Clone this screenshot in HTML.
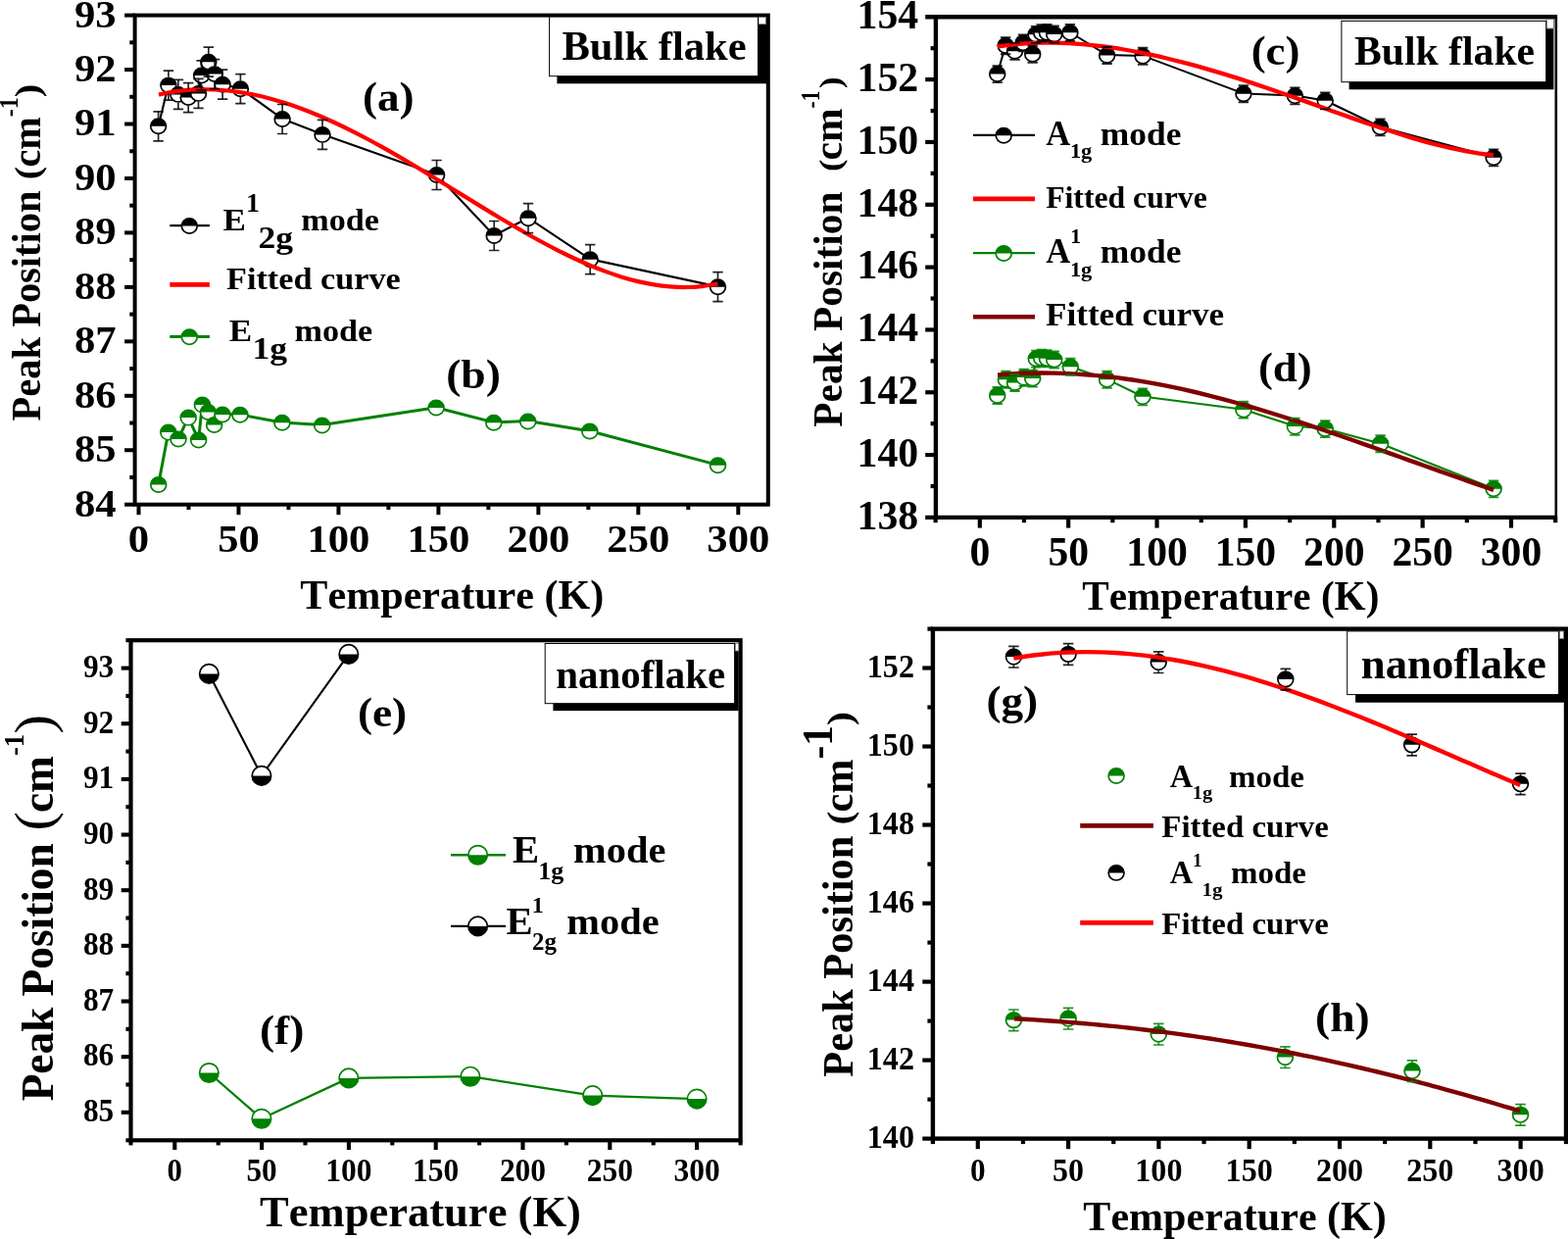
<!DOCTYPE html>
<html lang="en"><head><meta charset="utf-8"><title>Peak position versus temperature</title>
<style>
html,body{margin:0;padding:0;background:#fff;}
body{width:1600px;height:1264px;overflow:hidden;}
svg{display:block;}
svg text{font-family:"Liberation Serif","Times New Roman",serif;font-weight:bold;fill:#000;font-kerning:none;}
</style></head><body>
<svg width="1600" height="1264" viewBox="0 0 1600 1264">
<rect width="1600" height="1264" fill="#fff"/>
<rect x="137.6" y="15.6" width="646.2" height="499.1" fill="none" stroke="#000" stroke-width="4"/>
<line x1="127.1" y1="15.6" x2="137.6" y2="15.6" stroke="#000" stroke-width="4" stroke-linecap="butt"/>
<text transform="translate(118.6 27.5) scale(1.04 1)" font-size="41" text-anchor="end">93</text>
<line x1="132.3" y1="43.33" x2="137.6" y2="43.33" stroke="#000" stroke-width="4" stroke-linecap="butt"/>
<line x1="127.1" y1="71.06" x2="137.6" y2="71.06" stroke="#000" stroke-width="4" stroke-linecap="butt"/>
<text transform="translate(118.6 82.96) scale(1.04 1)" font-size="41" text-anchor="end">92</text>
<line x1="132.3" y1="98.78" x2="137.6" y2="98.78" stroke="#000" stroke-width="4" stroke-linecap="butt"/>
<line x1="127.1" y1="126.51" x2="137.6" y2="126.51" stroke="#000" stroke-width="4" stroke-linecap="butt"/>
<text transform="translate(118.6 138.41) scale(1.04 1)" font-size="41" text-anchor="end">91</text>
<line x1="132.3" y1="154.24" x2="137.6" y2="154.24" stroke="#000" stroke-width="4" stroke-linecap="butt"/>
<line x1="127.1" y1="181.97" x2="137.6" y2="181.97" stroke="#000" stroke-width="4" stroke-linecap="butt"/>
<text transform="translate(118.6 193.87) scale(1.04 1)" font-size="41" text-anchor="end">90</text>
<line x1="132.3" y1="209.69" x2="137.6" y2="209.69" stroke="#000" stroke-width="4" stroke-linecap="butt"/>
<line x1="127.1" y1="237.42" x2="137.6" y2="237.42" stroke="#000" stroke-width="4" stroke-linecap="butt"/>
<text transform="translate(118.6 249.32) scale(1.04 1)" font-size="41" text-anchor="end">89</text>
<line x1="132.3" y1="265.15" x2="137.6" y2="265.15" stroke="#000" stroke-width="4" stroke-linecap="butt"/>
<line x1="127.1" y1="292.88" x2="137.6" y2="292.88" stroke="#000" stroke-width="4" stroke-linecap="butt"/>
<text transform="translate(118.6 304.78) scale(1.04 1)" font-size="41" text-anchor="end">88</text>
<line x1="132.3" y1="320.61" x2="137.6" y2="320.61" stroke="#000" stroke-width="4" stroke-linecap="butt"/>
<line x1="127.1" y1="348.33" x2="137.6" y2="348.33" stroke="#000" stroke-width="4" stroke-linecap="butt"/>
<text transform="translate(118.6 360.23) scale(1.04 1)" font-size="41" text-anchor="end">87</text>
<line x1="132.3" y1="376.06" x2="137.6" y2="376.06" stroke="#000" stroke-width="4" stroke-linecap="butt"/>
<line x1="127.1" y1="403.79" x2="137.6" y2="403.79" stroke="#000" stroke-width="4" stroke-linecap="butt"/>
<text transform="translate(118.6 415.69) scale(1.04 1)" font-size="41" text-anchor="end">86</text>
<line x1="132.3" y1="431.52" x2="137.6" y2="431.52" stroke="#000" stroke-width="4" stroke-linecap="butt"/>
<line x1="127.1" y1="459.24" x2="137.6" y2="459.24" stroke="#000" stroke-width="4" stroke-linecap="butt"/>
<text transform="translate(118.6 471.14) scale(1.04 1)" font-size="41" text-anchor="end">85</text>
<line x1="132.3" y1="486.97" x2="137.6" y2="486.97" stroke="#000" stroke-width="4" stroke-linecap="butt"/>
<line x1="127.1" y1="514.7" x2="137.6" y2="514.7" stroke="#000" stroke-width="4" stroke-linecap="butt"/>
<text transform="translate(118.6 526.6) scale(1.04 1)" font-size="41" text-anchor="end">84</text>
<line x1="141.5" y1="514.7" x2="141.5" y2="525.2" stroke="#000" stroke-width="4" stroke-linecap="butt"/>
<text transform="translate(141.5 563.4) scale(1.04 1)" font-size="41" text-anchor="middle">0</text>
<line x1="243.47" y1="514.7" x2="243.47" y2="525.2" stroke="#000" stroke-width="4" stroke-linecap="butt"/>
<text transform="translate(243.47 563.4) scale(1.04 1)" font-size="41" text-anchor="middle">50</text>
<line x1="345.43" y1="514.7" x2="345.43" y2="525.2" stroke="#000" stroke-width="4" stroke-linecap="butt"/>
<text transform="translate(345.43 563.4) scale(1.04 1)" font-size="41" text-anchor="middle">100</text>
<line x1="447.4" y1="514.7" x2="447.4" y2="525.2" stroke="#000" stroke-width="4" stroke-linecap="butt"/>
<text transform="translate(447.4 563.4) scale(1.04 1)" font-size="41" text-anchor="middle">150</text>
<line x1="549.37" y1="514.7" x2="549.37" y2="525.2" stroke="#000" stroke-width="4" stroke-linecap="butt"/>
<text transform="translate(549.37 563.4) scale(1.04 1)" font-size="41" text-anchor="middle">200</text>
<line x1="651.33" y1="514.7" x2="651.33" y2="525.2" stroke="#000" stroke-width="4" stroke-linecap="butt"/>
<text transform="translate(651.33 563.4) scale(1.04 1)" font-size="41" text-anchor="middle">250</text>
<line x1="753.3" y1="514.7" x2="753.3" y2="525.2" stroke="#000" stroke-width="4" stroke-linecap="butt"/>
<text transform="translate(753.3 563.4) scale(1.04 1)" font-size="41" text-anchor="middle">300</text>
<line x1="192.48" y1="514.7" x2="192.48" y2="520" stroke="#000" stroke-width="4" stroke-linecap="butt"/>
<line x1="294.45" y1="514.7" x2="294.45" y2="520" stroke="#000" stroke-width="4" stroke-linecap="butt"/>
<line x1="396.42" y1="514.7" x2="396.42" y2="520" stroke="#000" stroke-width="4" stroke-linecap="butt"/>
<line x1="498.38" y1="514.7" x2="498.38" y2="520" stroke="#000" stroke-width="4" stroke-linecap="butt"/>
<line x1="600.35" y1="514.7" x2="600.35" y2="520" stroke="#000" stroke-width="4" stroke-linecap="butt"/>
<line x1="702.32" y1="514.7" x2="702.32" y2="520" stroke="#000" stroke-width="4" stroke-linecap="butt"/>
<text transform="translate(306.34 620.8) scale(0.9893 1)" font-size="42.6">Temperature (K)</text>
<text transform="translate(41.1 429.39) rotate(-90) scale(0.9414 1)" font-size="43">Peak Position</text>
<text transform="translate(40.45 183.36) rotate(-90) scale(1.0898 1)" font-size="36.8">(</text>
<text transform="translate(41.1 170.57) rotate(-90) scale(0.9355 1)" font-size="43">cm</text>
<text transform="translate(18 119.19) rotate(-90) scale(0.8887 1)" font-size="27.2">-1</text>
<text transform="translate(40.45 99.32) rotate(-90) scale(1.1109 1)" font-size="36.8">)</text>
<rect x="568.4" y="24.7" width="214" height="60.6" fill="#000" stroke="none" stroke-width="1"/>
<rect x="774" y="17.6" width="7.5" height="7.1" fill="#fff" stroke="#666" stroke-width="0.8"/>
<rect x="560.6" y="17.1" width="212.9" height="60.6" fill="#fff" stroke="#000" stroke-width="1"/>
<text transform="translate(573.39 60.9) scale(1.0252 1)" font-size="41.6">Bulk flake</text>
<polyline points="161.7,494.1 171.8,440.8 182,447.7 192.2,425.8 202.6,448.6 206.4,412.8 212.4,420.1 218.6,433.1 227,422.6 245,423 287.9,431 328.7,433.6 445.1,415.7 503.8,430.9 538.7,429.6 601.8,439.7 732.5,474.4" fill="none" stroke="#008000" stroke-width="3" stroke-linejoin="round"/>
<ellipse cx="161.7" cy="494.4" rx="7.95" ry="7.65" fill="#fff" stroke="#008000" stroke-width="1.7"/>
<path d="M153.75 494.4 A7.95 7.65 0 0 1 169.65 494.4 Z" fill="#008000"/>
<ellipse cx="171.8" cy="441.1" rx="7.95" ry="7.65" fill="#fff" stroke="#008000" stroke-width="1.7"/>
<path d="M163.85 441.1 A7.95 7.65 0 0 1 179.75 441.1 Z" fill="#008000"/>
<ellipse cx="182" cy="448" rx="7.95" ry="7.65" fill="#fff" stroke="#008000" stroke-width="1.7"/>
<path d="M174.05 448 A7.95 7.65 0 0 1 189.95 448 Z" fill="#008000"/>
<ellipse cx="192.2" cy="426.1" rx="7.95" ry="7.65" fill="#fff" stroke="#008000" stroke-width="1.7"/>
<path d="M184.25 426.1 A7.95 7.65 0 0 1 200.15 426.1 Z" fill="#008000"/>
<ellipse cx="202.6" cy="448.9" rx="7.95" ry="7.65" fill="#fff" stroke="#008000" stroke-width="1.7"/>
<path d="M194.65 448.9 A7.95 7.65 0 0 1 210.55 448.9 Z" fill="#008000"/>
<ellipse cx="206.4" cy="413.1" rx="7.95" ry="7.65" fill="#fff" stroke="#008000" stroke-width="1.7"/>
<path d="M198.45 413.1 A7.95 7.65 0 0 1 214.35 413.1 Z" fill="#008000"/>
<ellipse cx="212.4" cy="420.4" rx="7.95" ry="7.65" fill="#fff" stroke="#008000" stroke-width="1.7"/>
<path d="M204.45 420.4 A7.95 7.65 0 0 1 220.35 420.4 Z" fill="#008000"/>
<ellipse cx="218.6" cy="433.4" rx="7.95" ry="7.65" fill="#fff" stroke="#008000" stroke-width="1.7"/>
<path d="M210.65 433.4 A7.95 7.65 0 0 1 226.55 433.4 Z" fill="#008000"/>
<ellipse cx="227" cy="422.9" rx="7.95" ry="7.65" fill="#fff" stroke="#008000" stroke-width="1.7"/>
<path d="M219.05 422.9 A7.95 7.65 0 0 1 234.95 422.9 Z" fill="#008000"/>
<ellipse cx="245" cy="423.3" rx="7.95" ry="7.65" fill="#fff" stroke="#008000" stroke-width="1.7"/>
<path d="M237.05 423.3 A7.95 7.65 0 0 1 252.95 423.3 Z" fill="#008000"/>
<ellipse cx="287.9" cy="431.3" rx="7.95" ry="7.65" fill="#fff" stroke="#008000" stroke-width="1.7"/>
<path d="M279.95 431.3 A7.95 7.65 0 0 1 295.85 431.3 Z" fill="#008000"/>
<ellipse cx="328.7" cy="433.9" rx="7.95" ry="7.65" fill="#fff" stroke="#008000" stroke-width="1.7"/>
<path d="M320.75 433.9 A7.95 7.65 0 0 1 336.65 433.9 Z" fill="#008000"/>
<ellipse cx="445.1" cy="416" rx="7.95" ry="7.65" fill="#fff" stroke="#008000" stroke-width="1.7"/>
<path d="M437.15 416 A7.95 7.65 0 0 1 453.05 416 Z" fill="#008000"/>
<ellipse cx="503.8" cy="431.2" rx="7.95" ry="7.65" fill="#fff" stroke="#008000" stroke-width="1.7"/>
<path d="M495.85 431.2 A7.95 7.65 0 0 1 511.75 431.2 Z" fill="#008000"/>
<ellipse cx="538.7" cy="429.9" rx="7.95" ry="7.65" fill="#fff" stroke="#008000" stroke-width="1.7"/>
<path d="M530.75 429.9 A7.95 7.65 0 0 1 546.65 429.9 Z" fill="#008000"/>
<ellipse cx="601.8" cy="440" rx="7.95" ry="7.65" fill="#fff" stroke="#008000" stroke-width="1.7"/>
<path d="M593.85 440 A7.95 7.65 0 0 1 609.75 440 Z" fill="#008000"/>
<ellipse cx="732.5" cy="474.7" rx="7.95" ry="7.65" fill="#fff" stroke="#008000" stroke-width="1.7"/>
<path d="M724.55 474.7 A7.95 7.65 0 0 1 740.45 474.7 Z" fill="#008000"/>
<polyline points="161.6,128.5 171.9,86.8 181.9,96.1 192.2,99.3 202.5,95.1 205.6,76.6 212.8,62.9 219,75.3 227.1,85.9 245.4,90.4 288.1,121.2 329,137.1 445.6,178.2 504.2,240.2 539,222.4 602.2,264.4 732.5,292.4" fill="none" stroke="#000" stroke-width="2.1" stroke-linejoin="round"/>
<ellipse cx="161.6" cy="128.8" rx="7.9" ry="7.6" fill="#fff" stroke="#000" stroke-width="1.7"/>
<path d="M153.7 128.8 A7.9 7.6 0 0 1 169.5 128.8 Z" fill="#000"/>
<ellipse cx="171.9" cy="87.1" rx="7.9" ry="7.6" fill="#fff" stroke="#000" stroke-width="1.7"/>
<path d="M164 87.1 A7.9 7.6 0 0 1 179.8 87.1 Z" fill="#000"/>
<ellipse cx="181.9" cy="96.4" rx="7.9" ry="7.6" fill="#fff" stroke="#000" stroke-width="1.7"/>
<path d="M174 96.4 A7.9 7.6 0 0 1 189.8 96.4 Z" fill="#000"/>
<ellipse cx="192.2" cy="99.6" rx="7.9" ry="7.6" fill="#fff" stroke="#000" stroke-width="1.7"/>
<path d="M184.3 99.6 A7.9 7.6 0 0 1 200.1 99.6 Z" fill="#000"/>
<ellipse cx="202.5" cy="95.4" rx="7.9" ry="7.6" fill="#fff" stroke="#000" stroke-width="1.7"/>
<path d="M194.6 95.4 A7.9 7.6 0 0 1 210.4 95.4 Z" fill="#000"/>
<ellipse cx="205.6" cy="76.9" rx="7.9" ry="7.6" fill="#fff" stroke="#000" stroke-width="1.7"/>
<path d="M197.7 76.9 A7.9 7.6 0 0 1 213.5 76.9 Z" fill="#000"/>
<ellipse cx="212.8" cy="63.2" rx="7.9" ry="7.6" fill="#fff" stroke="#000" stroke-width="1.7"/>
<path d="M204.9 63.2 A7.9 7.6 0 0 1 220.7 63.2 Z" fill="#000"/>
<ellipse cx="219" cy="75.6" rx="7.9" ry="7.6" fill="#fff" stroke="#000" stroke-width="1.7"/>
<path d="M211.1 75.6 A7.9 7.6 0 0 1 226.9 75.6 Z" fill="#000"/>
<ellipse cx="227.1" cy="86.2" rx="7.9" ry="7.6" fill="#fff" stroke="#000" stroke-width="1.7"/>
<path d="M219.2 86.2 A7.9 7.6 0 0 1 235 86.2 Z" fill="#000"/>
<ellipse cx="245.4" cy="90.7" rx="7.9" ry="7.6" fill="#fff" stroke="#000" stroke-width="1.7"/>
<path d="M237.5 90.7 A7.9 7.6 0 0 1 253.3 90.7 Z" fill="#000"/>
<ellipse cx="288.1" cy="121.5" rx="7.9" ry="7.6" fill="#fff" stroke="#000" stroke-width="1.7"/>
<path d="M280.2 121.5 A7.9 7.6 0 0 1 296 121.5 Z" fill="#000"/>
<ellipse cx="329" cy="137.4" rx="7.9" ry="7.6" fill="#fff" stroke="#000" stroke-width="1.7"/>
<path d="M321.1 137.4 A7.9 7.6 0 0 1 336.9 137.4 Z" fill="#000"/>
<ellipse cx="445.6" cy="178.5" rx="7.9" ry="7.6" fill="#fff" stroke="#000" stroke-width="1.7"/>
<path d="M437.7 178.5 A7.9 7.6 0 0 1 453.5 178.5 Z" fill="#000"/>
<ellipse cx="504.2" cy="240.5" rx="7.9" ry="7.6" fill="#fff" stroke="#000" stroke-width="1.7"/>
<path d="M496.3 240.5 A7.9 7.6 0 0 1 512.1 240.5 Z" fill="#000"/>
<ellipse cx="539" cy="222.7" rx="7.9" ry="7.6" fill="#fff" stroke="#000" stroke-width="1.7"/>
<path d="M531.1 222.7 A7.9 7.6 0 0 1 546.9 222.7 Z" fill="#000"/>
<ellipse cx="602.2" cy="264.7" rx="7.9" ry="7.6" fill="#fff" stroke="#000" stroke-width="1.7"/>
<path d="M594.3 264.7 A7.9 7.6 0 0 1 610.1 264.7 Z" fill="#000"/>
<ellipse cx="732.5" cy="292.7" rx="7.9" ry="7.6" fill="#fff" stroke="#000" stroke-width="1.7"/>
<path d="M724.6 292.7 A7.9 7.6 0 0 1 740.4 292.7 Z" fill="#000"/>
<path d="M161.9 96.52 C164.62 96 172.77 94.24 178.2 93.44 C183.64 92.64 189.07 92.07 194.51 91.71 C199.94 91.34 205.37 91.2 210.81 91.25 C216.24 91.29 221.68 91.55 227.11 91.99 C232.55 92.42 237.98 93.06 243.41 93.86 C248.85 94.66 254.28 95.66 259.72 96.8 C265.15 97.95 270.59 99.27 276.02 100.74 C281.45 102.21 286.89 103.84 292.32 105.6 C297.76 107.36 303.19 109.28 308.63 111.32 C314.06 113.35 319.49 115.53 324.93 117.81 C330.36 120.1 335.8 122.51 341.23 125.02 C346.67 127.52 352.1 130.15 357.53 132.86 C362.97 135.56 368.4 138.37 373.84 141.25 C379.27 144.13 384.71 147.1 390.14 150.12 C395.57 153.15 401.01 156.25 406.44 159.4 C411.88 162.55 417.31 165.76 422.75 169 C428.18 172.23 433.61 175.53 439.05 178.83 C444.48 182.13 449.92 185.48 455.35 188.82 C460.79 192.16 466.22 195.53 471.65 198.88 C477.09 202.22 482.52 205.59 487.96 208.91 C493.39 212.24 498.83 215.56 504.26 218.84 C509.69 222.11 515.13 225.37 520.56 228.56 C526 231.75 531.43 234.91 536.87 237.99 C542.3 241.06 547.73 244.09 553.17 247.02 C558.6 249.95 564.04 252.81 569.47 255.55 C574.91 258.3 580.34 260.96 585.77 263.49 C591.21 266.02 596.64 268.45 602.08 270.72 C607.51 273 612.95 275.16 618.38 277.14 C623.81 279.13 629.25 280.98 634.68 282.64 C640.12 284.3 645.55 285.8 650.99 287.09 C656.42 288.38 661.85 289.5 667.29 290.39 C672.72 291.27 678.16 291.97 683.59 292.4 C689.03 292.84 694.46 293.07 699.89 293.02 C705.33 292.96 710.76 292.68 716.2 292.09 C721.63 291.51 729.78 289.93 732.5 289.5" fill="none" stroke="#ff0000" stroke-width="4.2" stroke-linecap="butt"/>
<g stroke="#000" stroke-opacity="0.85" fill="none"><path d="M161.6 113.8V120.5M161.6 137.1V143.8" stroke-width="1.7"/><path d="M156.4 113.8H166.8M156.4 143.8H166.8" stroke-width="1.7"/></g>
<g stroke="#000" stroke-opacity="0.85" fill="none"><path d="M171.9 72.1V78.8M171.9 95.4V102.1" stroke-width="1.7"/><path d="M166.7 72.1H177.1M166.7 102.1H177.1" stroke-width="1.7"/></g>
<g stroke="#000" stroke-opacity="0.85" fill="none"><path d="M181.9 81.4V88.1M181.9 104.7V111.4" stroke-width="1.7"/><path d="M176.7 81.4H187.1M176.7 111.4H187.1" stroke-width="1.7"/></g>
<g stroke="#000" stroke-opacity="0.85" fill="none"><path d="M192.2 84.6V91.3M192.2 107.9V114.6" stroke-width="1.7"/><path d="M187 84.6H197.4M187 114.6H197.4" stroke-width="1.7"/></g>
<g stroke="#000" stroke-opacity="0.85" fill="none"><path d="M202.5 80.4V87.1M202.5 103.7V110.4" stroke-width="1.7"/><path d="M197.3 80.4H207.7M197.3 110.4H207.7" stroke-width="1.7"/></g>
<g stroke="#000" stroke-opacity="0.85" fill="none"><path d="M205.6 61.9V68.6M205.6 85.2V91.9" stroke-width="1.7"/><path d="M200.4 61.9H210.8M200.4 91.9H210.8" stroke-width="1.7"/></g>
<g stroke="#000" stroke-opacity="0.85" fill="none"><path d="M212.8 48.2V54.9M212.8 71.5V78.2" stroke-width="1.7"/><path d="M207.6 48.2H218M207.6 78.2H218" stroke-width="1.7"/></g>
<g stroke="#000" stroke-opacity="0.85" fill="none"><path d="M219 60.6V67.3M219 83.9V90.6" stroke-width="1.7"/><path d="M213.8 60.6H224.2M213.8 90.6H224.2" stroke-width="1.7"/></g>
<g stroke="#000" stroke-opacity="0.85" fill="none"><path d="M227.1 71.2V77.9M227.1 94.5V101.2" stroke-width="1.7"/><path d="M221.9 71.2H232.3M221.9 101.2H232.3" stroke-width="1.7"/></g>
<g stroke="#000" stroke-opacity="0.85" fill="none"><path d="M245.4 75.7V82.4M245.4 99V105.7" stroke-width="1.7"/><path d="M240.2 75.7H250.6M240.2 105.7H250.6" stroke-width="1.7"/></g>
<g stroke="#000" stroke-opacity="0.85" fill="none"><path d="M288.1 106.5V113.2M288.1 129.8V136.5" stroke-width="1.7"/><path d="M282.9 106.5H293.3M282.9 136.5H293.3" stroke-width="1.7"/></g>
<g stroke="#000" stroke-opacity="0.85" fill="none"><path d="M329 122.4V129.1M329 145.7V152.4" stroke-width="1.7"/><path d="M323.8 122.4H334.2M323.8 152.4H334.2" stroke-width="1.7"/></g>
<g stroke="#000" stroke-opacity="0.85" fill="none"><path d="M445.6 163.5V170.2M445.6 186.8V193.5" stroke-width="1.7"/><path d="M440.4 163.5H450.8M440.4 193.5H450.8" stroke-width="1.7"/></g>
<g stroke="#000" stroke-opacity="0.85" fill="none"><path d="M504.2 225.5V232.2M504.2 248.8V255.5" stroke-width="1.7"/><path d="M499 225.5H509.4M499 255.5H509.4" stroke-width="1.7"/></g>
<g stroke="#000" stroke-opacity="0.85" fill="none"><path d="M539 207.7V214.4M539 231V237.7" stroke-width="1.7"/><path d="M533.8 207.7H544.2M533.8 237.7H544.2" stroke-width="1.7"/></g>
<g stroke="#000" stroke-opacity="0.85" fill="none"><path d="M602.2 249.7V256.4M602.2 273V279.7" stroke-width="1.7"/><path d="M597 249.7H607.4M597 279.7H607.4" stroke-width="1.7"/></g>
<g stroke="#000" stroke-opacity="0.85" fill="none"><path d="M732.5 277.7V284.4M732.5 301V307.7" stroke-width="1.7"/><path d="M727.3 277.7H737.7M727.3 307.7H737.7" stroke-width="1.7"/></g>
<line x1="173.3" y1="230.1" x2="213.9" y2="230.1" stroke="#000" stroke-width="2.1" stroke-linecap="butt"/>
<ellipse cx="193.3" cy="230.5" rx="7.9" ry="7.6" fill="#fff" stroke="#000" stroke-width="1.7"/>
<path d="M185.4 230.5 A7.9 7.6 0 0 1 201.2 230.5 Z" fill="#000"/>
<text transform="translate(227.6 235.3) scale(1.08 1)" font-size="32.5">E</text>
<text transform="translate(250.9 215.7) scale(1.05 1)" font-size="26.5">1</text>
<text transform="translate(263.6 252.6) scale(1.1 1)" font-size="32.3">2g</text>
<text transform="translate(307.2 235.2) scale(1.085 1)" font-size="31.5">mode</text>
<line x1="173.3" y1="290.4" x2="213.9" y2="290.4" stroke="#ff0000" stroke-width="4.6" stroke-linecap="butt"/>
<text transform="translate(231 294.8) scale(1.07 1)" font-size="32">Fitted curve</text>
<line x1="173.3" y1="343.6" x2="213.9" y2="343.6" stroke="#008000" stroke-width="3" stroke-linecap="butt"/>
<ellipse cx="193.3" cy="343.8" rx="7.95" ry="7.65" fill="#fff" stroke="#008000" stroke-width="1.7"/>
<path d="M185.35 343.8 A7.95 7.65 0 0 1 201.25 343.8 Z" fill="#008000"/>
<text transform="translate(233.8 347.8) scale(1.08 1)" font-size="32.5">E</text>
<text transform="translate(257.4 366.2) scale(1.1 1)" font-size="32.3">1g</text>
<text transform="translate(300.5 347.8) scale(1.085 1)" font-size="31.5">mode</text>
<text transform="translate(369.91 112.9) scale(1.0628 1)" font-size="42.5">(a)</text>
<text transform="translate(455.2 395.6) scale(1.0725 1)" font-size="42.5">(b)</text>
<line x1="954.9" y1="15.1" x2="954.9" y2="530.1" stroke="#000" stroke-width="4.4" stroke-linecap="butt"/>
<line x1="944.2" y1="17.3" x2="1589.1" y2="17.3" stroke="#000" stroke-width="4.4" stroke-linecap="butt"/>
<line x1="944.2" y1="527.9" x2="1589.1" y2="527.9" stroke="#000" stroke-width="4.4" stroke-linecap="butt"/>
<line x1="1587.8" y1="17.3" x2="1587.8" y2="527.9" stroke="#000" stroke-width="2.6" stroke-linecap="butt"/>
<text transform="translate(937.2 29.1) scale(0.972 1)" font-size="43" text-anchor="end">154</text>
<line x1="949.6" y1="49.21" x2="954.9" y2="49.21" stroke="#000" stroke-width="4.2" stroke-linecap="butt"/>
<line x1="944.2" y1="81.12" x2="954.9" y2="81.12" stroke="#000" stroke-width="4.2" stroke-linecap="butt"/>
<text transform="translate(937.2 92.92) scale(0.972 1)" font-size="43" text-anchor="end">152</text>
<line x1="949.6" y1="113.04" x2="954.9" y2="113.04" stroke="#000" stroke-width="4.2" stroke-linecap="butt"/>
<line x1="944.2" y1="144.95" x2="954.9" y2="144.95" stroke="#000" stroke-width="4.2" stroke-linecap="butt"/>
<text transform="translate(937.2 156.75) scale(0.972 1)" font-size="43" text-anchor="end">150</text>
<line x1="949.6" y1="176.86" x2="954.9" y2="176.86" stroke="#000" stroke-width="4.2" stroke-linecap="butt"/>
<line x1="944.2" y1="208.78" x2="954.9" y2="208.78" stroke="#000" stroke-width="4.2" stroke-linecap="butt"/>
<text transform="translate(937.2 220.58) scale(0.972 1)" font-size="43" text-anchor="end">148</text>
<line x1="949.6" y1="240.69" x2="954.9" y2="240.69" stroke="#000" stroke-width="4.2" stroke-linecap="butt"/>
<line x1="944.2" y1="272.6" x2="954.9" y2="272.6" stroke="#000" stroke-width="4.2" stroke-linecap="butt"/>
<text transform="translate(937.2 284.4) scale(0.972 1)" font-size="43" text-anchor="end">146</text>
<line x1="949.6" y1="304.51" x2="954.9" y2="304.51" stroke="#000" stroke-width="4.2" stroke-linecap="butt"/>
<line x1="944.2" y1="336.43" x2="954.9" y2="336.43" stroke="#000" stroke-width="4.2" stroke-linecap="butt"/>
<text transform="translate(937.2 348.23) scale(0.972 1)" font-size="43" text-anchor="end">144</text>
<line x1="949.6" y1="368.34" x2="954.9" y2="368.34" stroke="#000" stroke-width="4.2" stroke-linecap="butt"/>
<line x1="944.2" y1="400.25" x2="954.9" y2="400.25" stroke="#000" stroke-width="4.2" stroke-linecap="butt"/>
<text transform="translate(937.2 412.05) scale(0.972 1)" font-size="43" text-anchor="end">142</text>
<line x1="949.6" y1="432.16" x2="954.9" y2="432.16" stroke="#000" stroke-width="4.2" stroke-linecap="butt"/>
<line x1="944.2" y1="464.07" x2="954.9" y2="464.07" stroke="#000" stroke-width="4.2" stroke-linecap="butt"/>
<text transform="translate(937.2 475.88) scale(0.972 1)" font-size="43" text-anchor="end">140</text>
<line x1="949.6" y1="495.99" x2="954.9" y2="495.99" stroke="#000" stroke-width="4.2" stroke-linecap="butt"/>
<text transform="translate(937.2 539.7) scale(0.972 1)" font-size="43" text-anchor="end">138</text>
<line x1="999.8" y1="527.9" x2="999.8" y2="538.6" stroke="#000" stroke-width="4.2" stroke-linecap="butt"/>
<text transform="translate(999.8 577) scale(0.99 1)" font-size="42" text-anchor="middle">0</text>
<line x1="1090.17" y1="527.9" x2="1090.17" y2="538.6" stroke="#000" stroke-width="4.2" stroke-linecap="butt"/>
<text transform="translate(1090.17 577) scale(0.99 1)" font-size="42" text-anchor="middle">50</text>
<line x1="1180.53" y1="527.9" x2="1180.53" y2="538.6" stroke="#000" stroke-width="4.2" stroke-linecap="butt"/>
<text transform="translate(1180.53 577) scale(0.99 1)" font-size="42" text-anchor="middle">100</text>
<line x1="1270.9" y1="527.9" x2="1270.9" y2="538.6" stroke="#000" stroke-width="4.2" stroke-linecap="butt"/>
<text transform="translate(1270.9 577) scale(0.99 1)" font-size="42" text-anchor="middle">150</text>
<line x1="1361.27" y1="527.9" x2="1361.27" y2="538.6" stroke="#000" stroke-width="4.2" stroke-linecap="butt"/>
<text transform="translate(1361.27 577) scale(0.99 1)" font-size="42" text-anchor="middle">200</text>
<line x1="1451.63" y1="527.9" x2="1451.63" y2="538.6" stroke="#000" stroke-width="4.2" stroke-linecap="butt"/>
<text transform="translate(1451.63 577) scale(0.99 1)" font-size="42" text-anchor="middle">250</text>
<line x1="1542" y1="527.9" x2="1542" y2="538.6" stroke="#000" stroke-width="4.2" stroke-linecap="butt"/>
<text transform="translate(1542 577) scale(0.99 1)" font-size="42" text-anchor="middle">300</text>
<line x1="954.62" y1="527.9" x2="954.62" y2="533.2" stroke="#000" stroke-width="4.2" stroke-linecap="butt"/>
<line x1="1044.98" y1="527.9" x2="1044.98" y2="533.2" stroke="#000" stroke-width="4.2" stroke-linecap="butt"/>
<line x1="1135.35" y1="527.9" x2="1135.35" y2="533.2" stroke="#000" stroke-width="4.2" stroke-linecap="butt"/>
<line x1="1225.72" y1="527.9" x2="1225.72" y2="533.2" stroke="#000" stroke-width="4.2" stroke-linecap="butt"/>
<line x1="1316.08" y1="527.9" x2="1316.08" y2="533.2" stroke="#000" stroke-width="4.2" stroke-linecap="butt"/>
<line x1="1406.45" y1="527.9" x2="1406.45" y2="533.2" stroke="#000" stroke-width="4.2" stroke-linecap="butt"/>
<line x1="1496.82" y1="527.9" x2="1496.82" y2="533.2" stroke="#000" stroke-width="4.2" stroke-linecap="butt"/>
<line x1="1587.18" y1="527.9" x2="1587.18" y2="533.2" stroke="#000" stroke-width="4.2" stroke-linecap="butt"/>
<text transform="translate(1104.26 621.8) scale(0.9717 1)" font-size="42.4">Temperature (K)</text>
<text transform="translate(858.8 435.71) rotate(-90) scale(0.9627 1)" font-size="43">Peak Position</text>
<text transform="translate(858.2 175.04) rotate(-90) scale(1.1681 1)" font-size="32">(</text>
<text transform="translate(858.8 163.42) rotate(-90) scale(0.9658 1)" font-size="43">cm</text>
<text transform="translate(836 110.38) rotate(-90) scale(0.7968 1)" font-size="26.8">-1</text>
<text transform="translate(858.2 90.35) rotate(-90) scale(1.1194 1)" font-size="32">)</text>
<rect x="1376.6" y="29.2" width="208.8" height="62.1" fill="#000" stroke="none" stroke-width="1"/>
<rect x="1578.2" y="19.6" width="7.4" height="9.4" fill="#fff" stroke="#666" stroke-width="0.8"/>
<rect x="1368.9" y="21.4" width="208.8" height="62.3" fill="#fff" stroke="#000" stroke-width="1"/>
<text transform="translate(1381.91 66.3) scale(0.9791 1)" font-size="42.6">Bulk flake</text>
<polyline points="1017.7,403.1 1026.4,386.9 1035.5,390.1 1044.8,384.8 1053.7,385.7 1057.3,365.7 1062.7,364.9 1068.4,365.4 1075.7,366.6 1092.3,373.9 1129.6,386.9 1165.9,404.5 1268.9,417.7 1321.4,434.8 1352.2,437.2 1408.6,452.4 1524.1,498.5" fill="none" stroke="#008000" stroke-width="2.1" stroke-linejoin="round"/>
<ellipse cx="1017.7" cy="403.4" rx="7.95" ry="7.65" fill="#fff" stroke="#008000" stroke-width="1.7"/>
<path d="M1009.75 403.4 A7.95 7.65 0 0 1 1025.65 403.4 Z" fill="#008000"/>
<ellipse cx="1026.4" cy="387.2" rx="7.95" ry="7.65" fill="#fff" stroke="#008000" stroke-width="1.7"/>
<path d="M1018.45 387.2 A7.95 7.65 0 0 1 1034.35 387.2 Z" fill="#008000"/>
<ellipse cx="1035.5" cy="390.4" rx="7.95" ry="7.65" fill="#fff" stroke="#008000" stroke-width="1.7"/>
<path d="M1027.55 390.4 A7.95 7.65 0 0 1 1043.45 390.4 Z" fill="#008000"/>
<ellipse cx="1044.8" cy="385.1" rx="7.95" ry="7.65" fill="#fff" stroke="#008000" stroke-width="1.7"/>
<path d="M1036.85 385.1 A7.95 7.65 0 0 1 1052.75 385.1 Z" fill="#008000"/>
<ellipse cx="1053.7" cy="386" rx="7.95" ry="7.65" fill="#fff" stroke="#008000" stroke-width="1.7"/>
<path d="M1045.75 386 A7.95 7.65 0 0 1 1061.65 386 Z" fill="#008000"/>
<ellipse cx="1057.3" cy="366" rx="7.95" ry="7.65" fill="#fff" stroke="#008000" stroke-width="1.7"/>
<path d="M1049.35 366 A7.95 7.65 0 0 1 1065.25 366 Z" fill="#008000"/>
<ellipse cx="1062.7" cy="365.2" rx="7.95" ry="7.65" fill="#fff" stroke="#008000" stroke-width="1.7"/>
<path d="M1054.75 365.2 A7.95 7.65 0 0 1 1070.65 365.2 Z" fill="#008000"/>
<ellipse cx="1068.4" cy="365.7" rx="7.95" ry="7.65" fill="#fff" stroke="#008000" stroke-width="1.7"/>
<path d="M1060.45 365.7 A7.95 7.65 0 0 1 1076.35 365.7 Z" fill="#008000"/>
<ellipse cx="1075.7" cy="366.9" rx="7.95" ry="7.65" fill="#fff" stroke="#008000" stroke-width="1.7"/>
<path d="M1067.75 366.9 A7.95 7.65 0 0 1 1083.65 366.9 Z" fill="#008000"/>
<ellipse cx="1092.3" cy="374.2" rx="7.95" ry="7.65" fill="#fff" stroke="#008000" stroke-width="1.7"/>
<path d="M1084.35 374.2 A7.95 7.65 0 0 1 1100.25 374.2 Z" fill="#008000"/>
<ellipse cx="1129.6" cy="387.2" rx="7.95" ry="7.65" fill="#fff" stroke="#008000" stroke-width="1.7"/>
<path d="M1121.65 387.2 A7.95 7.65 0 0 1 1137.55 387.2 Z" fill="#008000"/>
<ellipse cx="1165.9" cy="404.8" rx="7.95" ry="7.65" fill="#fff" stroke="#008000" stroke-width="1.7"/>
<path d="M1157.95 404.8 A7.95 7.65 0 0 1 1173.85 404.8 Z" fill="#008000"/>
<ellipse cx="1268.9" cy="418" rx="7.95" ry="7.65" fill="#fff" stroke="#008000" stroke-width="1.7"/>
<path d="M1260.95 418 A7.95 7.65 0 0 1 1276.85 418 Z" fill="#008000"/>
<ellipse cx="1321.4" cy="435.1" rx="7.95" ry="7.65" fill="#fff" stroke="#008000" stroke-width="1.7"/>
<path d="M1313.45 435.1 A7.95 7.65 0 0 1 1329.35 435.1 Z" fill="#008000"/>
<ellipse cx="1352.2" cy="437.5" rx="7.95" ry="7.65" fill="#fff" stroke="#008000" stroke-width="1.7"/>
<path d="M1344.25 437.5 A7.95 7.65 0 0 1 1360.15 437.5 Z" fill="#008000"/>
<ellipse cx="1408.6" cy="452.7" rx="7.95" ry="7.65" fill="#fff" stroke="#008000" stroke-width="1.7"/>
<path d="M1400.65 452.7 A7.95 7.65 0 0 1 1416.55 452.7 Z" fill="#008000"/>
<ellipse cx="1524.1" cy="498.8" rx="7.95" ry="7.65" fill="#fff" stroke="#008000" stroke-width="1.7"/>
<path d="M1516.15 498.8 A7.95 7.65 0 0 1 1532.05 498.8 Z" fill="#008000"/>
<polyline points="1017.7,75.2 1026.1,46.3 1035.5,52 1044,43.5 1053.7,54.9 1057,35 1062.7,33.3 1068.4,33 1075.7,34.6 1091.9,33 1129.6,56.1 1166.1,56.9 1268.9,95.4 1321.4,97.5 1352.2,102.5 1408.4,129.5 1524.1,160.5" fill="none" stroke="#000" stroke-width="2" stroke-linejoin="round"/>
<ellipse cx="1017.7" cy="75.5" rx="7.9" ry="7.6" fill="#fff" stroke="#000" stroke-width="1.7"/>
<path d="M1009.8 75.5 A7.9 7.6 0 0 1 1025.6 75.5 Z" fill="#000"/>
<ellipse cx="1026.1" cy="46.6" rx="7.9" ry="7.6" fill="#fff" stroke="#000" stroke-width="1.7"/>
<path d="M1018.2 46.6 A7.9 7.6 0 0 1 1034 46.6 Z" fill="#000"/>
<ellipse cx="1035.5" cy="52.3" rx="7.9" ry="7.6" fill="#fff" stroke="#000" stroke-width="1.7"/>
<path d="M1027.6 52.3 A7.9 7.6 0 0 1 1043.4 52.3 Z" fill="#000"/>
<ellipse cx="1044" cy="43.8" rx="7.9" ry="7.6" fill="#fff" stroke="#000" stroke-width="1.7"/>
<path d="M1036.1 43.8 A7.9 7.6 0 0 1 1051.9 43.8 Z" fill="#000"/>
<ellipse cx="1053.7" cy="55.2" rx="7.9" ry="7.6" fill="#fff" stroke="#000" stroke-width="1.7"/>
<path d="M1045.8 55.2 A7.9 7.6 0 0 1 1061.6 55.2 Z" fill="#000"/>
<ellipse cx="1057" cy="35.3" rx="7.9" ry="7.6" fill="#fff" stroke="#000" stroke-width="1.7"/>
<path d="M1049.1 35.3 A7.9 7.6 0 0 1 1064.9 35.3 Z" fill="#000"/>
<ellipse cx="1062.7" cy="33.6" rx="7.9" ry="7.6" fill="#fff" stroke="#000" stroke-width="1.7"/>
<path d="M1054.8 33.6 A7.9 7.6 0 0 1 1070.6 33.6 Z" fill="#000"/>
<ellipse cx="1068.4" cy="33.3" rx="7.9" ry="7.6" fill="#fff" stroke="#000" stroke-width="1.7"/>
<path d="M1060.5 33.3 A7.9 7.6 0 0 1 1076.3 33.3 Z" fill="#000"/>
<ellipse cx="1075.7" cy="34.9" rx="7.9" ry="7.6" fill="#fff" stroke="#000" stroke-width="1.7"/>
<path d="M1067.8 34.9 A7.9 7.6 0 0 1 1083.6 34.9 Z" fill="#000"/>
<ellipse cx="1091.9" cy="33.3" rx="7.9" ry="7.6" fill="#fff" stroke="#000" stroke-width="1.7"/>
<path d="M1084 33.3 A7.9 7.6 0 0 1 1099.8 33.3 Z" fill="#000"/>
<ellipse cx="1129.6" cy="56.4" rx="7.9" ry="7.6" fill="#fff" stroke="#000" stroke-width="1.7"/>
<path d="M1121.7 56.4 A7.9 7.6 0 0 1 1137.5 56.4 Z" fill="#000"/>
<ellipse cx="1166.1" cy="57.2" rx="7.9" ry="7.6" fill="#fff" stroke="#000" stroke-width="1.7"/>
<path d="M1158.2 57.2 A7.9 7.6 0 0 1 1174 57.2 Z" fill="#000"/>
<ellipse cx="1268.9" cy="95.7" rx="7.9" ry="7.6" fill="#fff" stroke="#000" stroke-width="1.7"/>
<path d="M1261 95.7 A7.9 7.6 0 0 1 1276.8 95.7 Z" fill="#000"/>
<ellipse cx="1321.4" cy="97.8" rx="7.9" ry="7.6" fill="#fff" stroke="#000" stroke-width="1.7"/>
<path d="M1313.5 97.8 A7.9 7.6 0 0 1 1329.3 97.8 Z" fill="#000"/>
<ellipse cx="1352.2" cy="102.8" rx="7.9" ry="7.6" fill="#fff" stroke="#000" stroke-width="1.7"/>
<path d="M1344.3 102.8 A7.9 7.6 0 0 1 1360.1 102.8 Z" fill="#000"/>
<ellipse cx="1408.4" cy="129.8" rx="7.9" ry="7.6" fill="#fff" stroke="#000" stroke-width="1.7"/>
<path d="M1400.5 129.8 A7.9 7.6 0 0 1 1416.3 129.8 Z" fill="#000"/>
<ellipse cx="1524.1" cy="160.8" rx="7.9" ry="7.6" fill="#fff" stroke="#000" stroke-width="1.7"/>
<path d="M1516.2 160.8 A7.9 7.6 0 0 1 1532 160.8 Z" fill="#000"/>
<path d="M1018 47.62 C1020.41 47.29 1027.64 46.18 1032.46 45.64 C1037.28 45.09 1042.1 44.67 1046.92 44.34 C1051.74 44.02 1056.56 43.81 1061.38 43.7 C1066.2 43.58 1071.02 43.57 1075.84 43.64 C1080.66 43.71 1085.48 43.88 1090.3 44.13 C1095.12 44.37 1099.94 44.71 1104.76 45.12 C1109.58 45.53 1114.4 46.02 1119.22 46.58 C1124.04 47.13 1128.86 47.77 1133.68 48.47 C1138.5 49.16 1143.32 49.93 1148.14 50.75 C1152.96 51.58 1157.78 52.47 1162.6 53.41 C1167.42 54.35 1172.24 55.36 1177.06 56.41 C1181.88 57.46 1186.7 58.57 1191.52 59.72 C1196.34 60.87 1201.16 62.08 1205.98 63.32 C1210.8 64.57 1215.62 65.86 1220.44 67.19 C1225.26 68.52 1230.08 69.9 1234.9 71.31 C1239.72 72.71 1244.54 74.16 1249.36 75.64 C1254.18 77.12 1259 78.63 1263.82 80.17 C1268.64 81.71 1273.46 83.28 1278.28 84.87 C1283.1 86.46 1287.92 88.09 1292.74 89.72 C1297.56 91.36 1302.38 93.02 1307.2 94.7 C1312.02 96.37 1316.84 98.07 1321.66 99.77 C1326.48 101.47 1331.3 103.18 1336.12 104.9 C1340.94 106.62 1345.76 108.35 1350.58 110.07 C1355.4 111.79 1360.22 113.52 1365.04 115.24 C1369.86 116.95 1374.68 118.67 1379.5 120.36 C1384.32 122.06 1389.14 123.75 1393.96 125.41 C1398.78 127.07 1403.6 128.72 1408.42 130.33 C1413.24 131.95 1418.06 133.54 1422.88 135.08 C1427.7 136.63 1432.52 138.14 1437.34 139.6 C1442.16 141.06 1446.98 142.48 1451.8 143.83 C1456.62 145.19 1461.44 146.49 1466.26 147.71 C1471.08 148.94 1475.9 150.1 1480.72 151.17 C1485.54 152.24 1490.36 153.24 1495.18 154.13 C1500 155.02 1504.82 155.83 1509.64 156.51 C1514.46 157.2 1521.69 157.94 1524.1 158.22" fill="none" stroke="#ff0000" stroke-width="4.3" stroke-linecap="butt"/>
<path d="M1018 382.35 C1020.41 382.19 1027.64 381.62 1032.46 381.35 C1037.28 381.09 1042.1 380.88 1046.92 380.74 C1051.74 380.59 1056.56 380.51 1061.38 380.49 C1066.2 380.47 1071.02 380.51 1075.84 380.62 C1080.66 380.72 1085.48 380.88 1090.3 381.11 C1095.12 381.33 1099.94 381.61 1104.76 381.95 C1109.58 382.29 1114.4 382.69 1119.22 383.14 C1124.04 383.59 1128.86 384.11 1133.68 384.67 C1138.5 385.23 1143.32 385.85 1148.14 386.52 C1152.96 387.2 1157.78 387.92 1162.6 388.69 C1167.42 389.47 1172.24 390.29 1177.06 391.16 C1181.88 392.03 1186.7 392.96 1191.52 393.92 C1196.34 394.89 1201.16 395.9 1205.98 396.95 C1210.8 398 1215.62 399.1 1220.44 400.24 C1225.26 401.38 1230.08 402.56 1234.9 403.77 C1239.72 404.99 1244.54 406.24 1249.36 407.53 C1254.18 408.82 1259 410.14 1263.82 411.5 C1268.64 412.85 1273.46 414.24 1278.28 415.66 C1283.1 417.07 1287.92 418.52 1292.74 420 C1297.56 421.47 1302.38 422.97 1307.2 424.49 C1312.02 426.02 1316.84 427.56 1321.66 429.13 C1326.48 430.7 1331.3 432.29 1336.12 433.9 C1340.94 435.5 1345.76 437.13 1350.58 438.77 C1355.4 440.41 1360.22 442.06 1365.04 443.73 C1369.86 445.39 1374.68 447.08 1379.5 448.76 C1384.32 450.45 1389.14 452.15 1393.96 453.86 C1398.78 455.56 1403.6 457.28 1408.42 458.99 C1413.24 460.71 1418.06 462.43 1422.88 464.15 C1427.7 465.88 1432.52 467.6 1437.34 469.33 C1442.16 471.05 1446.98 472.78 1451.8 474.5 C1456.62 476.22 1461.44 477.94 1466.26 479.65 C1471.08 481.36 1475.9 483.07 1480.72 484.77 C1485.54 486.48 1490.36 488.17 1495.18 489.86 C1500 491.54 1504.82 493.22 1509.64 494.89 C1514.46 496.56 1521.69 499.03 1524.1 499.86" fill="none" stroke="#800000" stroke-width="4.4" stroke-linecap="butt"/>
<g stroke="#008000" stroke-opacity="0.85" fill="none"><path d="M1012.5 395H1022.9M1012.5 412H1022.9" stroke-width="1.9"/></g>
<g stroke="#008000" stroke-opacity="0.85" fill="none"><path d="M1021.2 378.8H1031.6M1021.2 395.8H1031.6" stroke-width="1.9"/></g>
<g stroke="#008000" stroke-opacity="0.85" fill="none"><path d="M1030.3 382H1040.7M1030.3 399H1040.7" stroke-width="1.9"/></g>
<g stroke="#008000" stroke-opacity="0.85" fill="none"><path d="M1039.6 376.7H1050M1039.6 393.7H1050" stroke-width="1.9"/></g>
<g stroke="#008000" stroke-opacity="0.85" fill="none"><path d="M1048.5 377.6H1058.9M1048.5 394.6H1058.9" stroke-width="1.9"/></g>
<g stroke="#008000" stroke-opacity="0.85" fill="none"><path d="M1052.1 357.6H1062.5M1052.1 374.6H1062.5" stroke-width="1.9"/></g>
<g stroke="#008000" stroke-opacity="0.85" fill="none"><path d="M1057.5 356.8H1067.9M1057.5 373.8H1067.9" stroke-width="1.9"/></g>
<g stroke="#008000" stroke-opacity="0.85" fill="none"><path d="M1063.2 357.3H1073.6M1063.2 374.3H1073.6" stroke-width="1.9"/></g>
<g stroke="#008000" stroke-opacity="0.85" fill="none"><path d="M1070.5 358.5H1080.9M1070.5 375.5H1080.9" stroke-width="1.9"/></g>
<g stroke="#008000" stroke-opacity="0.85" fill="none"><path d="M1087.1 365.8H1097.5M1087.1 382.8H1097.5" stroke-width="1.9"/></g>
<g stroke="#008000" stroke-opacity="0.85" fill="none"><path d="M1124.4 378.8H1134.8M1124.4 395.8H1134.8" stroke-width="1.9"/></g>
<g stroke="#008000" stroke-opacity="0.85" fill="none"><path d="M1160.7 396.4H1171.1M1160.7 413.4H1171.1" stroke-width="1.9"/></g>
<g stroke="#008000" stroke-opacity="0.85" fill="none"><path d="M1263.7 409.6H1274.1M1263.7 426.6H1274.1" stroke-width="1.9"/></g>
<g stroke="#008000" stroke-opacity="0.85" fill="none"><path d="M1316.2 426.7H1326.6M1316.2 443.7H1326.6" stroke-width="1.9"/></g>
<g stroke="#008000" stroke-opacity="0.85" fill="none"><path d="M1347 429.1H1357.4M1347 446.1H1357.4" stroke-width="1.9"/></g>
<g stroke="#008000" stroke-opacity="0.85" fill="none"><path d="M1403.4 444.3H1413.8M1403.4 461.3H1413.8" stroke-width="1.9"/></g>
<g stroke="#008000" stroke-opacity="0.85" fill="none"><path d="M1518.9 490.4H1529.3M1518.9 507.4H1529.3" stroke-width="1.9"/></g>
<g stroke="#000" stroke-opacity="0.85" fill="none"><path d="M1012.5 67.1H1022.9M1012.5 84.1H1022.9" stroke-width="1.9"/></g>
<g stroke="#000" stroke-opacity="0.85" fill="none"><path d="M1020.9 38.2H1031.3M1020.9 55.2H1031.3" stroke-width="1.9"/></g>
<g stroke="#000" stroke-opacity="0.85" fill="none"><path d="M1030.3 43.9H1040.7M1030.3 60.9H1040.7" stroke-width="1.9"/></g>
<g stroke="#000" stroke-opacity="0.85" fill="none"><path d="M1038.8 35.4H1049.2M1038.8 52.4H1049.2" stroke-width="1.9"/></g>
<g stroke="#000" stroke-opacity="0.85" fill="none"><path d="M1048.5 46.8H1058.9M1048.5 63.8H1058.9" stroke-width="1.9"/></g>
<g stroke="#000" stroke-opacity="0.85" fill="none"><path d="M1051.8 26.9H1062.2M1051.8 43.9H1062.2" stroke-width="1.9"/></g>
<g stroke="#000" stroke-opacity="0.85" fill="none"><path d="M1057.5 25.2H1067.9M1057.5 42.2H1067.9" stroke-width="1.9"/></g>
<g stroke="#000" stroke-opacity="0.85" fill="none"><path d="M1063.2 24.9H1073.6M1063.2 41.9H1073.6" stroke-width="1.9"/></g>
<g stroke="#000" stroke-opacity="0.85" fill="none"><path d="M1070.5 26.5H1080.9M1070.5 43.5H1080.9" stroke-width="1.9"/></g>
<g stroke="#000" stroke-opacity="0.85" fill="none"><path d="M1086.7 24.9H1097.1M1086.7 41.9H1097.1" stroke-width="1.9"/></g>
<g stroke="#000" stroke-opacity="0.85" fill="none"><path d="M1124.4 48H1134.8M1124.4 65H1134.8" stroke-width="1.9"/></g>
<g stroke="#000" stroke-opacity="0.85" fill="none"><path d="M1160.9 48.8H1171.3M1160.9 65.8H1171.3" stroke-width="1.9"/></g>
<g stroke="#000" stroke-opacity="0.85" fill="none"><path d="M1263.7 87.3H1274.1M1263.7 104.3H1274.1" stroke-width="1.9"/></g>
<g stroke="#000" stroke-opacity="0.85" fill="none"><path d="M1316.2 89.4H1326.6M1316.2 106.4H1326.6" stroke-width="1.9"/></g>
<g stroke="#000" stroke-opacity="0.85" fill="none"><path d="M1347 94.4H1357.4M1347 111.4H1357.4" stroke-width="1.9"/></g>
<g stroke="#000" stroke-opacity="0.85" fill="none"><path d="M1403.2 121.4H1413.6M1403.2 138.4H1413.6" stroke-width="1.9"/></g>
<g stroke="#000" stroke-opacity="0.85" fill="none"><path d="M1518.9 152.4H1529.3M1518.9 169.4H1529.3" stroke-width="1.9"/></g>
<line x1="993" y1="137.9" x2="1056" y2="137.9" stroke="#000" stroke-width="2.1" stroke-linecap="butt"/>
<ellipse cx="1024.2" cy="138.3" rx="7.9" ry="7.6" fill="#fff" stroke="#000" stroke-width="1.7"/>
<path d="M1016.3 138.3 A7.9 7.6 0 0 1 1032.1 138.3 Z" fill="#000"/>
<text transform="translate(1067.36 147.6) scale(0.9748 1)" font-size="35.5">A</text>
<text transform="translate(1091.91 161.4) scale(1.0282 1)" font-size="21.8">1g</text>
<text transform="translate(1122.85 147.5) scale(1.0738 1)" font-size="33">mode</text>
<line x1="993" y1="202.9" x2="1056" y2="202.9" stroke="#ff0000" stroke-width="4.6" stroke-linecap="butt"/>
<text transform="translate(1067.16 212.4) scale(1.0099 1)" font-size="31.4">Fitted curve</text>
<line x1="993" y1="258.1" x2="1056" y2="258.1" stroke="#008000" stroke-width="2.3" stroke-linecap="butt"/>
<ellipse cx="1024.2" cy="258.5" rx="7.95" ry="7.65" fill="#fff" stroke="#008000" stroke-width="1.7"/>
<path d="M1016.25 258.5 A7.95 7.65 0 0 1 1032.15 258.5 Z" fill="#008000"/>
<text transform="translate(1067.36 267.9) scale(0.9748 1)" font-size="35.5">A</text>
<text transform="translate(1092.16 248.2) scale(1.0447 1)" font-size="20.8">1</text>
<text transform="translate(1091.91 281.7) scale(1.0282 1)" font-size="21.8">1g</text>
<text transform="translate(1122.85 267.8) scale(1.0738 1)" font-size="33">mode</text>
<line x1="993" y1="323.2" x2="1056" y2="323.2" stroke="#800000" stroke-width="4.6" stroke-linecap="butt"/>
<text transform="translate(1067.1 332.4) scale(1.0438 1)" font-size="33.6">Fitted curve</text>
<text transform="translate(1276.63 66.4) scale(1.0545 1)" font-size="42.5">(c)</text>
<text transform="translate(1283.93 388.8) scale(1.0559 1)" font-size="42.5">(d)</text>
<rect x="133.5" y="653.2" width="622.1" height="510.1" fill="none" stroke="#000" stroke-width="4.2"/>
<line x1="128.4" y1="653.2" x2="133.5" y2="653.2" stroke="#000" stroke-width="4.1" stroke-linecap="butt"/>
<line x1="128.4" y1="1163.3" x2="133.5" y2="1163.3" stroke="#000" stroke-width="4.1" stroke-linecap="butt"/>
<line x1="133.5" y1="1163.3" x2="133.5" y2="1168.4" stroke="#000" stroke-width="4.1" stroke-linecap="butt"/>
<line x1="755.6" y1="1163.3" x2="755.6" y2="1168.4" stroke="#000" stroke-width="4.1" stroke-linecap="butt"/>
<line x1="123.7" y1="681.6" x2="133.5" y2="681.6" stroke="#000" stroke-width="4.1" stroke-linecap="butt"/>
<text x="116.2" y="690.9" font-size="33.5" text-anchor="end" textLength="31.3" lengthAdjust="spacingAndGlyphs">93</text>
<line x1="128.4" y1="709.93" x2="133.5" y2="709.93" stroke="#000" stroke-width="4.1" stroke-linecap="butt"/>
<line x1="123.7" y1="738.25" x2="133.5" y2="738.25" stroke="#000" stroke-width="4.1" stroke-linecap="butt"/>
<text x="116.2" y="747.55" font-size="33.5" text-anchor="end" textLength="31.3" lengthAdjust="spacingAndGlyphs">92</text>
<line x1="128.4" y1="766.58" x2="133.5" y2="766.58" stroke="#000" stroke-width="4.1" stroke-linecap="butt"/>
<line x1="123.7" y1="794.9" x2="133.5" y2="794.9" stroke="#000" stroke-width="4.1" stroke-linecap="butt"/>
<text x="116.2" y="804.2" font-size="33.5" text-anchor="end" textLength="31.3" lengthAdjust="spacingAndGlyphs">91</text>
<line x1="128.4" y1="823.23" x2="133.5" y2="823.23" stroke="#000" stroke-width="4.1" stroke-linecap="butt"/>
<line x1="123.7" y1="851.55" x2="133.5" y2="851.55" stroke="#000" stroke-width="4.1" stroke-linecap="butt"/>
<text x="116.2" y="860.85" font-size="33.5" text-anchor="end" textLength="31.3" lengthAdjust="spacingAndGlyphs">90</text>
<line x1="128.4" y1="879.88" x2="133.5" y2="879.88" stroke="#000" stroke-width="4.1" stroke-linecap="butt"/>
<line x1="123.7" y1="908.2" x2="133.5" y2="908.2" stroke="#000" stroke-width="4.1" stroke-linecap="butt"/>
<text x="116.2" y="917.5" font-size="33.5" text-anchor="end" textLength="31.3" lengthAdjust="spacingAndGlyphs">89</text>
<line x1="128.4" y1="936.53" x2="133.5" y2="936.53" stroke="#000" stroke-width="4.1" stroke-linecap="butt"/>
<line x1="123.7" y1="964.85" x2="133.5" y2="964.85" stroke="#000" stroke-width="4.1" stroke-linecap="butt"/>
<text x="116.2" y="974.15" font-size="33.5" text-anchor="end" textLength="31.3" lengthAdjust="spacingAndGlyphs">88</text>
<line x1="128.4" y1="993.17" x2="133.5" y2="993.17" stroke="#000" stroke-width="4.1" stroke-linecap="butt"/>
<line x1="123.7" y1="1021.5" x2="133.5" y2="1021.5" stroke="#000" stroke-width="4.1" stroke-linecap="butt"/>
<text x="116.2" y="1030.8" font-size="33.5" text-anchor="end" textLength="31.3" lengthAdjust="spacingAndGlyphs">87</text>
<line x1="128.4" y1="1049.83" x2="133.5" y2="1049.83" stroke="#000" stroke-width="4.1" stroke-linecap="butt"/>
<line x1="123.7" y1="1078.15" x2="133.5" y2="1078.15" stroke="#000" stroke-width="4.1" stroke-linecap="butt"/>
<text x="116.2" y="1087.45" font-size="33.5" text-anchor="end" textLength="31.3" lengthAdjust="spacingAndGlyphs">86</text>
<line x1="128.4" y1="1106.48" x2="133.5" y2="1106.48" stroke="#000" stroke-width="4.1" stroke-linecap="butt"/>
<line x1="123.7" y1="1134.8" x2="133.5" y2="1134.8" stroke="#000" stroke-width="4.1" stroke-linecap="butt"/>
<text x="116.2" y="1144.1" font-size="33.5" text-anchor="end" textLength="31.3" lengthAdjust="spacingAndGlyphs">85</text>
<line x1="178.3" y1="1163.3" x2="178.3" y2="1173.1" stroke="#000" stroke-width="4.1" stroke-linecap="butt"/>
<text x="178.3" y="1205.3" font-size="33.5" text-anchor="middle" textLength="15.4" lengthAdjust="spacingAndGlyphs">0</text>
<line x1="267.1" y1="1163.3" x2="267.1" y2="1173.1" stroke="#000" stroke-width="4.1" stroke-linecap="butt"/>
<text x="267.1" y="1205.3" font-size="33.5" text-anchor="middle" textLength="31.2" lengthAdjust="spacingAndGlyphs">50</text>
<line x1="355.9" y1="1163.3" x2="355.9" y2="1173.1" stroke="#000" stroke-width="4.1" stroke-linecap="butt"/>
<text x="355.9" y="1205.3" font-size="33.5" text-anchor="middle" textLength="47.2" lengthAdjust="spacingAndGlyphs">100</text>
<line x1="444.7" y1="1163.3" x2="444.7" y2="1173.1" stroke="#000" stroke-width="4.1" stroke-linecap="butt"/>
<text x="444.7" y="1205.3" font-size="33.5" text-anchor="middle" textLength="47.2" lengthAdjust="spacingAndGlyphs">150</text>
<line x1="533.5" y1="1163.3" x2="533.5" y2="1173.1" stroke="#000" stroke-width="4.1" stroke-linecap="butt"/>
<text x="533.5" y="1205.3" font-size="33.5" text-anchor="middle" textLength="47.2" lengthAdjust="spacingAndGlyphs">200</text>
<line x1="622.3" y1="1163.3" x2="622.3" y2="1173.1" stroke="#000" stroke-width="4.1" stroke-linecap="butt"/>
<text x="622.3" y="1205.3" font-size="33.5" text-anchor="middle" textLength="47.2" lengthAdjust="spacingAndGlyphs">250</text>
<line x1="711.1" y1="1163.3" x2="711.1" y2="1173.1" stroke="#000" stroke-width="4.1" stroke-linecap="butt"/>
<text x="711.1" y="1205.3" font-size="33.5" text-anchor="middle" textLength="47.2" lengthAdjust="spacingAndGlyphs">300</text>
<line x1="222.7" y1="1163.3" x2="222.7" y2="1168.4" stroke="#000" stroke-width="4.1" stroke-linecap="butt"/>
<line x1="311.5" y1="1163.3" x2="311.5" y2="1168.4" stroke="#000" stroke-width="4.1" stroke-linecap="butt"/>
<line x1="400.3" y1="1163.3" x2="400.3" y2="1168.4" stroke="#000" stroke-width="4.1" stroke-linecap="butt"/>
<line x1="489.1" y1="1163.3" x2="489.1" y2="1168.4" stroke="#000" stroke-width="4.1" stroke-linecap="butt"/>
<line x1="577.9" y1="1163.3" x2="577.9" y2="1168.4" stroke="#000" stroke-width="4.1" stroke-linecap="butt"/>
<line x1="666.7" y1="1163.3" x2="666.7" y2="1168.4" stroke="#000" stroke-width="4.1" stroke-linecap="butt"/>
<text transform="translate(265.1 1251) scale(0.9901 1)" font-size="45">Temperature (K)</text>
<text transform="translate(53.9 1123.37) rotate(-90) scale(0.9583 1)" font-size="47.3">Peak Position</text>
<text transform="translate(53.1 847.57) rotate(-90) scale(1.0580 1)" font-size="55.2" style="font-weight:normal">(</text>
<text transform="translate(53.9 829.05) rotate(-90) scale(0.9591 1)" font-size="47.3">cm</text>
<text transform="translate(24.2 771.07) rotate(-90) scale(0.9169 1)" font-size="29">-1</text>
<text transform="translate(53.1 748.83) rotate(-90) scale(1.0862 1)" font-size="55.2" style="font-weight:normal">)</text>
<rect x="564.4" y="664.1" width="189.3" height="61" fill="#000" stroke="none" stroke-width="1"/>
<rect x="750.2" y="656.2" width="3.6" height="7.8" fill="#fff" stroke="#666" stroke-width="0.8"/>
<rect x="556.2" y="656.5" width="193.4" height="61.2" fill="#fff" stroke="#000" stroke-width="1"/>
<text transform="translate(567.3 701.5) scale(0.9863 1)" font-size="41.5">nanoflake</text>
<polyline points="213.3,1094.5 266.9,1141.3 355.8,1099.9 479.9,1098.2 604.7,1117.6 711.1,1121.1" fill="none" stroke="#008000" stroke-width="2.3" stroke-linejoin="round"/>
<ellipse cx="213.3" cy="1094.5" rx="9.7" ry="9.7" fill="#fff" stroke="#008000" stroke-width="1.7"/>
<path d="M203.6 1094.5 A9.7 9.7 0 0 0 223 1094.5 Z" fill="#008000"/>
<ellipse cx="266.9" cy="1141.3" rx="9.7" ry="9.7" fill="#fff" stroke="#008000" stroke-width="1.7"/>
<path d="M257.2 1141.3 A9.7 9.7 0 0 0 276.6 1141.3 Z" fill="#008000"/>
<ellipse cx="355.8" cy="1099.9" rx="9.7" ry="9.7" fill="#fff" stroke="#008000" stroke-width="1.7"/>
<path d="M346.1 1099.9 A9.7 9.7 0 0 0 365.5 1099.9 Z" fill="#008000"/>
<ellipse cx="479.9" cy="1098.2" rx="9.7" ry="9.7" fill="#fff" stroke="#008000" stroke-width="1.7"/>
<path d="M470.2 1098.2 A9.7 9.7 0 0 0 489.6 1098.2 Z" fill="#008000"/>
<ellipse cx="604.7" cy="1117.6" rx="9.7" ry="9.7" fill="#fff" stroke="#008000" stroke-width="1.7"/>
<path d="M595 1117.6 A9.7 9.7 0 0 0 614.4 1117.6 Z" fill="#008000"/>
<ellipse cx="711.1" cy="1121.1" rx="9.7" ry="9.7" fill="#fff" stroke="#008000" stroke-width="1.7"/>
<path d="M701.4 1121.1 A9.7 9.7 0 0 0 720.8 1121.1 Z" fill="#008000"/>
<polyline points="213.3,687.4 266.9,791.4 355.8,667.4" fill="none" stroke="#000" stroke-width="2.1" stroke-linejoin="round"/>
<ellipse cx="213.3" cy="687.4" rx="9.7" ry="9.7" fill="#fff" stroke="#000" stroke-width="1.7"/>
<path d="M203.6 687.4 A9.7 9.7 0 0 0 223 687.4 Z" fill="#000"/>
<ellipse cx="266.9" cy="791.4" rx="9.7" ry="9.7" fill="#fff" stroke="#000" stroke-width="1.7"/>
<path d="M257.2 791.4 A9.7 9.7 0 0 0 276.6 791.4 Z" fill="#000"/>
<ellipse cx="355.8" cy="667.4" rx="9.7" ry="9.7" fill="#fff" stroke="#000" stroke-width="1.7"/>
<path d="M346.1 667.4 A9.7 9.7 0 0 0 365.5 667.4 Z" fill="#000"/>
<line x1="460" y1="872.3" x2="516" y2="872.3" stroke="#008000" stroke-width="2.4" stroke-linecap="butt"/>
<ellipse cx="487.6" cy="872.3" rx="9.7" ry="9.7" fill="#fff" stroke="#008000" stroke-width="1.7"/>
<path d="M477.9 872.3 A9.7 9.7 0 0 0 497.3 872.3 Z" fill="#008000"/>
<text transform="translate(523 880.1) scale(0.9941 1)" font-size="41">E</text>
<text transform="translate(549.22 896.8) scale(1.0455 1)" font-size="24.8">1g</text>
<text transform="translate(585.11 880.1) scale(1.0514 1)" font-size="38.5">mode</text>
<line x1="460" y1="944.9" x2="516" y2="944.9" stroke="#000" stroke-width="2.1" stroke-linecap="butt"/>
<ellipse cx="487.6" cy="944.9" rx="9.7" ry="9.7" fill="#fff" stroke="#000" stroke-width="1.7"/>
<path d="M477.9 944.9 A9.7 9.7 0 0 0 497.3 944.9 Z" fill="#000"/>
<text transform="translate(516.5 952.9) scale(0.9941 1)" font-size="41">E</text>
<text transform="translate(542.86 930.9) scale(1.0287 1)" font-size="23.5">1</text>
<text transform="translate(542.95 969) scale(1.0036 1)" font-size="24.8">2g</text>
<text transform="translate(578.31 952.9) scale(1.0502 1)" font-size="38.5">mode</text>
<text transform="translate(364.91 740.5) scale(1.0660 1)" font-size="42.5">(e)</text>
<text transform="translate(264.9 1064.9) scale(1.0717 1)" font-size="42.5">(f)</text>
<rect x="951.9" y="641.6" width="646.1" height="520" fill="none" stroke="#000" stroke-width="4.4"/>
<line x1="946.4" y1="641.6" x2="951.9" y2="641.6" stroke="#000" stroke-width="4.2" stroke-linecap="butt"/>
<line x1="951.9" y1="1161.6" x2="951.9" y2="1167.1" stroke="#000" stroke-width="4.2" stroke-linecap="butt"/>
<line x1="1598" y1="1161.6" x2="1598" y2="1167.1" stroke="#000" stroke-width="4.2" stroke-linecap="butt"/>
<line x1="941.3" y1="681.5" x2="951.9" y2="681.5" stroke="#000" stroke-width="4.2" stroke-linecap="butt"/>
<text x="933" y="690.6" font-size="33.5" text-anchor="end" textLength="48.2" lengthAdjust="spacingAndGlyphs">152</text>
<line x1="946.4" y1="721.51" x2="951.9" y2="721.51" stroke="#000" stroke-width="4.2" stroke-linecap="butt"/>
<line x1="941.3" y1="761.52" x2="951.9" y2="761.52" stroke="#000" stroke-width="4.2" stroke-linecap="butt"/>
<text x="933" y="770.62" font-size="33.5" text-anchor="end" textLength="48.2" lengthAdjust="spacingAndGlyphs">150</text>
<line x1="946.4" y1="801.52" x2="951.9" y2="801.52" stroke="#000" stroke-width="4.2" stroke-linecap="butt"/>
<line x1="941.3" y1="841.53" x2="951.9" y2="841.53" stroke="#000" stroke-width="4.2" stroke-linecap="butt"/>
<text x="933" y="850.63" font-size="33.5" text-anchor="end" textLength="48.2" lengthAdjust="spacingAndGlyphs">148</text>
<line x1="946.4" y1="881.54" x2="951.9" y2="881.54" stroke="#000" stroke-width="4.2" stroke-linecap="butt"/>
<line x1="941.3" y1="921.55" x2="951.9" y2="921.55" stroke="#000" stroke-width="4.2" stroke-linecap="butt"/>
<text x="933" y="930.65" font-size="33.5" text-anchor="end" textLength="48.2" lengthAdjust="spacingAndGlyphs">146</text>
<line x1="946.4" y1="961.56" x2="951.9" y2="961.56" stroke="#000" stroke-width="4.2" stroke-linecap="butt"/>
<line x1="941.3" y1="1001.57" x2="951.9" y2="1001.57" stroke="#000" stroke-width="4.2" stroke-linecap="butt"/>
<text x="933" y="1010.67" font-size="33.5" text-anchor="end" textLength="48.2" lengthAdjust="spacingAndGlyphs">144</text>
<line x1="946.4" y1="1041.57" x2="951.9" y2="1041.57" stroke="#000" stroke-width="4.2" stroke-linecap="butt"/>
<line x1="941.3" y1="1081.58" x2="951.9" y2="1081.58" stroke="#000" stroke-width="4.2" stroke-linecap="butt"/>
<text x="933" y="1090.68" font-size="33.5" text-anchor="end" textLength="48.2" lengthAdjust="spacingAndGlyphs">142</text>
<line x1="946.4" y1="1121.59" x2="951.9" y2="1121.59" stroke="#000" stroke-width="4.2" stroke-linecap="butt"/>
<line x1="941.3" y1="1161.6" x2="951.9" y2="1161.6" stroke="#000" stroke-width="4.2" stroke-linecap="butt"/>
<text x="933" y="1170.7" font-size="33.5" text-anchor="end" textLength="48.2" lengthAdjust="spacingAndGlyphs">140</text>
<line x1="997.8" y1="1161.6" x2="997.8" y2="1172.2" stroke="#000" stroke-width="4.2" stroke-linecap="butt"/>
<text x="997.8" y="1205" font-size="33.5" text-anchor="middle" textLength="15.6" lengthAdjust="spacingAndGlyphs">0</text>
<line x1="1090.1" y1="1161.6" x2="1090.1" y2="1172.2" stroke="#000" stroke-width="4.2" stroke-linecap="butt"/>
<text x="1090.1" y="1205" font-size="33.5" text-anchor="middle" textLength="32" lengthAdjust="spacingAndGlyphs">50</text>
<line x1="1182.4" y1="1161.6" x2="1182.4" y2="1172.2" stroke="#000" stroke-width="4.2" stroke-linecap="butt"/>
<text x="1182.4" y="1205" font-size="33.5" text-anchor="middle" textLength="48.2" lengthAdjust="spacingAndGlyphs">100</text>
<line x1="1274.7" y1="1161.6" x2="1274.7" y2="1172.2" stroke="#000" stroke-width="4.2" stroke-linecap="butt"/>
<text x="1274.7" y="1205" font-size="33.5" text-anchor="middle" textLength="48.2" lengthAdjust="spacingAndGlyphs">150</text>
<line x1="1367" y1="1161.6" x2="1367" y2="1172.2" stroke="#000" stroke-width="4.2" stroke-linecap="butt"/>
<text x="1367" y="1205" font-size="33.5" text-anchor="middle" textLength="48.2" lengthAdjust="spacingAndGlyphs">200</text>
<line x1="1459.3" y1="1161.6" x2="1459.3" y2="1172.2" stroke="#000" stroke-width="4.2" stroke-linecap="butt"/>
<text x="1459.3" y="1205" font-size="33.5" text-anchor="middle" textLength="48.2" lengthAdjust="spacingAndGlyphs">250</text>
<line x1="1551.6" y1="1161.6" x2="1551.6" y2="1172.2" stroke="#000" stroke-width="4.2" stroke-linecap="butt"/>
<text x="1551.6" y="1205" font-size="33.5" text-anchor="middle" textLength="48.2" lengthAdjust="spacingAndGlyphs">300</text>
<line x1="1043.95" y1="1161.6" x2="1043.95" y2="1167.1" stroke="#000" stroke-width="4.2" stroke-linecap="butt"/>
<line x1="1136.25" y1="1161.6" x2="1136.25" y2="1167.1" stroke="#000" stroke-width="4.2" stroke-linecap="butt"/>
<line x1="1228.55" y1="1161.6" x2="1228.55" y2="1167.1" stroke="#000" stroke-width="4.2" stroke-linecap="butt"/>
<line x1="1320.85" y1="1161.6" x2="1320.85" y2="1167.1" stroke="#000" stroke-width="4.2" stroke-linecap="butt"/>
<line x1="1413.15" y1="1161.6" x2="1413.15" y2="1167.1" stroke="#000" stroke-width="4.2" stroke-linecap="butt"/>
<line x1="1505.45" y1="1161.6" x2="1505.45" y2="1167.1" stroke="#000" stroke-width="4.2" stroke-linecap="butt"/>
<text transform="translate(1105.34 1255.4) scale(0.9900 1)" font-size="42.5">Temperature (K)</text>
<text transform="translate(869.5 1098.72) rotate(-90) scale(0.9419 1)" font-size="45">Peak Position</text>
<text transform="translate(868.7 841.53) rotate(-90) scale(1.1321 1)" font-size="36.8">(</text>
<text transform="translate(869.5 828.55) rotate(-90) scale(0.9410 1)" font-size="45">cm</text>
<text transform="translate(848.9 774.61) rotate(-90) scale(0.9131 1)" font-size="45.3">-1</text>
<text transform="translate(868.7 740.06) rotate(-90) scale(1.1427 1)" font-size="36.8">)</text>
<rect x="1383.1" y="651.7" width="216.9" height="65" fill="#000" stroke="none" stroke-width="1"/>
<rect x="1591.4" y="644" width="4.2" height="7.4" fill="#fff" stroke="#666" stroke-width="0.8"/>
<rect x="1374.7" y="643.9" width="215.9" height="64.7" fill="#fff" stroke="#000" stroke-width="1"/>
<text transform="translate(1388.8 691.5) scale(1.0180 1)" font-size="44">nanoflake</text>
<ellipse cx="1034.4" cy="1040.6" rx="7.95" ry="7.8" fill="#fff" stroke="#008000" stroke-width="1.7"/>
<path d="M1026.45 1040.6 A7.95 7.8 0 0 1 1042.35 1040.6 Z" fill="#008000"/>
<ellipse cx="1090.1" cy="1039" rx="7.95" ry="7.8" fill="#fff" stroke="#008000" stroke-width="1.7"/>
<path d="M1082.15 1039 A7.95 7.8 0 0 1 1098.05 1039 Z" fill="#008000"/>
<ellipse cx="1182.3" cy="1055" rx="7.95" ry="7.8" fill="#fff" stroke="#008000" stroke-width="1.7"/>
<path d="M1174.35 1055 A7.95 7.8 0 0 1 1190.25 1055 Z" fill="#008000"/>
<ellipse cx="1311.4" cy="1078.5" rx="7.95" ry="7.8" fill="#fff" stroke="#008000" stroke-width="1.7"/>
<path d="M1303.45 1078.5 A7.95 7.8 0 0 1 1319.35 1078.5 Z" fill="#008000"/>
<ellipse cx="1441" cy="1092.5" rx="7.95" ry="7.8" fill="#fff" stroke="#008000" stroke-width="1.7"/>
<path d="M1433.05 1092.5 A7.95 7.8 0 0 1 1448.95 1092.5 Z" fill="#008000"/>
<ellipse cx="1551.5" cy="1137.2" rx="7.95" ry="7.8" fill="#fff" stroke="#008000" stroke-width="1.7"/>
<path d="M1543.55 1137.2 A7.95 7.8 0 0 1 1559.45 1137.2 Z" fill="#008000"/>
<ellipse cx="1034.4" cy="670" rx="7.9" ry="7.8" fill="#fff" stroke="#000" stroke-width="1.7"/>
<path d="M1026.5 670 A7.9 7.8 0 0 1 1042.3 670 Z" fill="#000"/>
<ellipse cx="1090.1" cy="667.3" rx="7.9" ry="7.8" fill="#fff" stroke="#000" stroke-width="1.7"/>
<path d="M1082.2 667.3 A7.9 7.8 0 0 1 1098 667.3 Z" fill="#000"/>
<ellipse cx="1182.2" cy="675.5" rx="7.9" ry="7.8" fill="#fff" stroke="#000" stroke-width="1.7"/>
<path d="M1174.3 675.5 A7.9 7.8 0 0 1 1190.1 675.5 Z" fill="#000"/>
<ellipse cx="1311.8" cy="692.9" rx="7.9" ry="7.8" fill="#fff" stroke="#000" stroke-width="1.7"/>
<path d="M1303.9 692.9 A7.9 7.8 0 0 1 1319.7 692.9 Z" fill="#000"/>
<ellipse cx="1440.7" cy="759.8" rx="7.9" ry="7.8" fill="#fff" stroke="#000" stroke-width="1.7"/>
<path d="M1432.8 759.8 A7.9 7.8 0 0 1 1448.6 759.8 Z" fill="#000"/>
<ellipse cx="1551.5" cy="799.7" rx="7.9" ry="7.8" fill="#fff" stroke="#000" stroke-width="1.7"/>
<path d="M1543.6 799.7 A7.9 7.8 0 0 1 1559.4 799.7 Z" fill="#000"/>
<path d="M1034.4 671.63 C1036.86 671.24 1044.24 669.97 1049.17 669.27 C1054.09 668.57 1059.01 667.97 1063.93 667.46 C1068.86 666.94 1073.78 666.51 1078.7 666.17 C1083.62 665.83 1088.55 665.57 1093.47 665.4 C1098.39 665.23 1103.31 665.14 1108.24 665.13 C1113.16 665.12 1118.08 665.19 1123 665.34 C1127.93 665.48 1132.85 665.71 1137.77 666.01 C1142.69 666.31 1147.61 666.69 1152.54 667.13 C1157.46 667.58 1162.38 668.1 1167.3 668.69 C1172.23 669.28 1177.15 669.93 1182.07 670.66 C1186.99 671.38 1191.92 672.17 1196.84 673.03 C1201.76 673.88 1206.68 674.8 1211.61 675.77 C1216.53 676.75 1221.45 677.79 1226.37 678.88 C1231.3 679.98 1236.22 681.13 1241.14 682.34 C1246.06 683.55 1250.98 684.81 1255.91 686.12 C1260.83 687.44 1265.75 688.8 1270.67 690.22 C1275.6 691.63 1280.52 693.09 1285.44 694.6 C1290.36 696.1 1295.29 697.66 1300.21 699.25 C1305.13 700.85 1310.05 702.48 1314.98 704.16 C1319.9 705.83 1324.82 707.55 1329.74 709.3 C1334.67 711.05 1339.59 712.84 1344.51 714.66 C1349.43 716.48 1354.35 718.33 1359.28 720.21 C1364.2 722.09 1369.12 724 1374.04 725.94 C1378.97 727.87 1383.89 729.84 1388.81 731.82 C1393.73 733.8 1398.66 735.81 1403.58 737.84 C1408.5 739.86 1413.42 741.91 1418.35 743.97 C1423.27 746.03 1428.19 748.11 1433.11 750.2 C1438.04 752.29 1442.96 754.4 1447.88 756.51 C1452.8 758.62 1457.72 760.74 1462.65 762.86 C1467.57 764.99 1472.49 767.12 1477.41 769.26 C1482.34 771.39 1487.26 773.52 1492.18 775.66 C1497.1 777.79 1502.03 779.92 1506.95 782.05 C1511.87 784.17 1516.79 786.3 1521.72 788.41 C1526.64 790.52 1531.56 792.63 1536.48 794.71 C1541.41 796.8 1548.79 799.91 1551.25 800.94" fill="none" stroke="#ff0000" stroke-width="4.4" stroke-linecap="butt"/>
<path d="M1035 1039.22 C1037.46 1039.35 1044.83 1039.74 1049.74 1040.03 C1054.66 1040.32 1059.57 1040.63 1064.49 1040.96 C1069.4 1041.28 1074.31 1041.62 1079.23 1041.98 C1084.14 1042.34 1089.06 1042.72 1093.97 1043.12 C1098.89 1043.51 1103.8 1043.93 1108.71 1044.36 C1113.63 1044.79 1118.54 1045.24 1123.46 1045.71 C1128.37 1046.18 1133.29 1046.67 1138.2 1047.18 C1143.11 1047.69 1148.03 1048.21 1152.94 1048.76 C1157.86 1049.3 1162.77 1049.86 1167.69 1050.44 C1172.6 1051.03 1177.51 1051.63 1182.43 1052.25 C1187.34 1052.87 1192.26 1053.51 1197.17 1054.16 C1202.09 1054.82 1207 1055.5 1211.91 1056.2 C1216.83 1056.89 1221.74 1057.61 1226.66 1058.34 C1231.57 1059.08 1236.49 1059.83 1241.4 1060.6 C1246.31 1061.38 1251.23 1062.17 1256.14 1062.98 C1261.06 1063.79 1265.97 1064.62 1270.89 1065.47 C1275.8 1066.32 1280.71 1067.19 1285.63 1068.08 C1290.54 1068.97 1295.46 1069.87 1300.37 1070.8 C1305.29 1071.73 1310.2 1072.67 1315.11 1073.64 C1320.03 1074.6 1324.94 1075.58 1329.86 1076.58 C1334.77 1077.58 1339.69 1078.61 1344.6 1079.64 C1349.51 1080.68 1354.43 1081.74 1359.34 1082.82 C1364.26 1083.89 1369.17 1084.99 1374.09 1086.1 C1379 1087.21 1383.91 1088.34 1388.83 1089.49 C1393.74 1090.64 1398.66 1091.8 1403.57 1092.99 C1408.49 1094.17 1413.4 1095.38 1418.31 1096.59 C1423.23 1097.81 1428.14 1099.05 1433.06 1100.31 C1437.97 1101.56 1442.89 1102.83 1447.8 1104.12 C1452.71 1105.41 1457.63 1106.71 1462.54 1108.03 C1467.46 1109.35 1472.37 1110.69 1477.29 1112.05 C1482.2 1113.4 1487.11 1114.77 1492.03 1116.16 C1496.94 1117.54 1501.86 1118.95 1506.77 1120.36 C1511.69 1121.78 1516.6 1123.21 1521.51 1124.66 C1526.43 1126.11 1531.34 1127.57 1536.26 1129.05 C1541.17 1130.52 1548.54 1132.78 1551 1133.52" fill="none" stroke="#800000" stroke-width="4.4" stroke-linecap="butt"/>
<g stroke="#008000" stroke-opacity="0.85" fill="none"><path d="M1034.4 1030V1032.3M1034.4 1049.3V1051.6" stroke-width="1.7"/><path d="M1029.1 1030H1039.7M1029.1 1051.6H1039.7" stroke-width="1.7"/></g>
<g stroke="#008000" stroke-opacity="0.85" fill="none"><path d="M1090.1 1028.4V1030.7M1090.1 1047.7V1050" stroke-width="1.7"/><path d="M1084.8 1028.4H1095.4M1084.8 1050H1095.4" stroke-width="1.7"/></g>
<g stroke="#008000" stroke-opacity="0.85" fill="none"><path d="M1182.3 1044.4V1046.7M1182.3 1063.7V1066" stroke-width="1.7"/><path d="M1177 1044.4H1187.6M1177 1066H1187.6" stroke-width="1.7"/></g>
<g stroke="#008000" stroke-opacity="0.85" fill="none"><path d="M1311.4 1067.9V1070.2M1311.4 1087.2V1089.5" stroke-width="1.7"/><path d="M1306.1 1067.9H1316.7M1306.1 1089.5H1316.7" stroke-width="1.7"/></g>
<g stroke="#008000" stroke-opacity="0.85" fill="none"><path d="M1441 1081.9V1084.2M1441 1101.2V1103.5" stroke-width="1.7"/><path d="M1435.7 1081.9H1446.3M1435.7 1103.5H1446.3" stroke-width="1.7"/></g>
<g stroke="#008000" stroke-opacity="0.85" fill="none"><path d="M1551.5 1126.6V1128.9M1551.5 1145.9V1148.2" stroke-width="1.7"/><path d="M1546.2 1126.6H1556.8M1546.2 1148.2H1556.8" stroke-width="1.7"/></g>
<g stroke="#000" stroke-opacity="0.85" fill="none"><path d="M1034.4 659.4V661.7M1034.4 678.7V681" stroke-width="1.7"/><path d="M1029.1 659.4H1039.7M1029.1 681H1039.7" stroke-width="1.7"/></g>
<g stroke="#000" stroke-opacity="0.85" fill="none"><path d="M1090.1 656.7V659M1090.1 676V678.3" stroke-width="1.7"/><path d="M1084.8 656.7H1095.4M1084.8 678.3H1095.4" stroke-width="1.7"/></g>
<g stroke="#000" stroke-opacity="0.85" fill="none"><path d="M1182.2 664.9V667.2M1182.2 684.2V686.5" stroke-width="1.7"/><path d="M1176.9 664.9H1187.5M1176.9 686.5H1187.5" stroke-width="1.7"/></g>
<g stroke="#000" stroke-opacity="0.85" fill="none"><path d="M1311.8 682.3V684.6M1311.8 701.6V703.9" stroke-width="1.7"/><path d="M1306.5 682.3H1317.1M1306.5 703.9H1317.1" stroke-width="1.7"/></g>
<g stroke="#000" stroke-opacity="0.85" fill="none"><path d="M1440.7 749.2V751.5M1440.7 768.5V770.8" stroke-width="1.7"/><path d="M1435.4 749.2H1446M1435.4 770.8H1446" stroke-width="1.7"/></g>
<g stroke="#000" stroke-opacity="0.85" fill="none"><path d="M1551.5 789.1V791.4M1551.5 808.4V810.7" stroke-width="1.7"/><path d="M1546.2 789.1H1556.8M1546.2 810.7H1556.8" stroke-width="1.7"/></g>
<ellipse cx="1139.1" cy="791.4" rx="7.95" ry="7.65" fill="#fff" stroke="#008000" stroke-width="1.7"/>
<path d="M1131.15 791.4 A7.95 7.65 0 0 1 1147.05 791.4 Z" fill="#008000"/>
<text transform="translate(1193.68 803) scale(0.9799 1)" font-size="33">A</text>
<text transform="translate(1216.86 815.2) scale(1.0756 1)" font-size="19">1g</text>
<text transform="translate(1254.01 803) scale(1.0483 1)" font-size="31.5">mode</text>
<line x1="1102.2" y1="842.3" x2="1176.9" y2="842.3" stroke="#800000" stroke-width="4.8" stroke-linecap="butt"/>
<text transform="translate(1185.34 854.2) scale(1.0073 1)" font-size="32.6">Fitted curve</text>
<ellipse cx="1139.1" cy="890.4" rx="7.9" ry="7.6" fill="#fff" stroke="#000" stroke-width="1.7"/>
<path d="M1131.2 890.4 A7.9 7.6 0 0 1 1147 890.4 Z" fill="#000"/>
<text transform="translate(1193.68 901.3) scale(0.9799 1)" font-size="33">A</text>
<text transform="translate(1217.06 883.7) scale(0.9789 1)" font-size="19.7">1</text>
<text transform="translate(1226.41 913.8) scale(1.1103 1)" font-size="19">1g</text>
<text transform="translate(1256.12 901.3) scale(1.0455 1)" font-size="31.5">mode</text>
<line x1="1102.2" y1="941.4" x2="1176.9" y2="941.4" stroke="#ff0000" stroke-width="4.8" stroke-linecap="butt"/>
<text transform="translate(1185.34 953.3) scale(1.0073 1)" font-size="32.6">Fitted curve</text>
<text transform="translate(1006.41 728.8) scale(1.0777 1)" font-size="42">(g)</text>
<text transform="translate(1342 1052.3) scale(1.0852 1)" font-size="42">(h)</text>
</svg>
</body></html>
